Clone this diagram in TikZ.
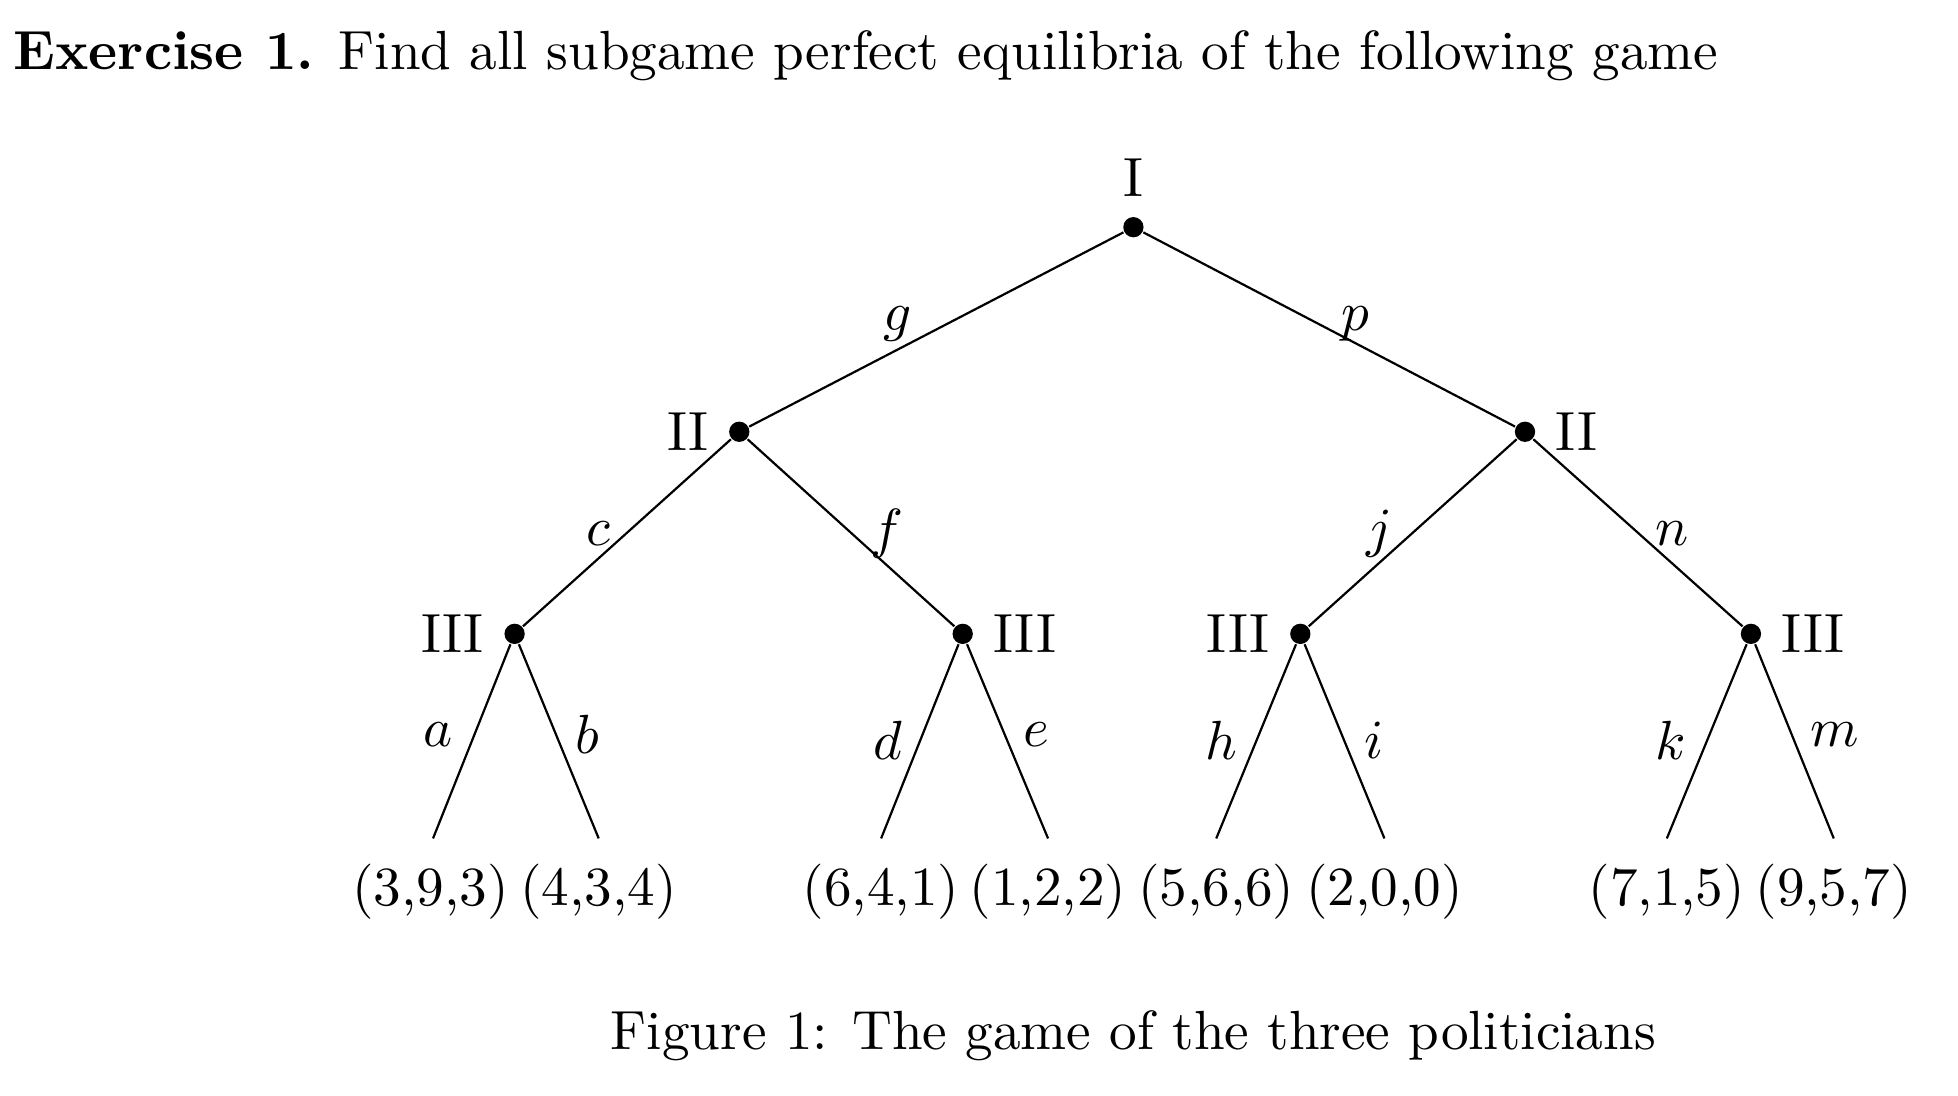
\documentclass[tikz,border=0pt]{standalone}
\usetikzlibrary{positioning}
\tikzset{
  dec/.style={circle,fill,inner sep=1.3pt},
  pl/.style={font=\normalsize},
  act/.style={font=\normalsize\itshape},
  pay/.style={font=\normalsize,anchor=north,inner sep=1pt},
}
\begin{document}
\begin{tikzpicture}[x=0.008cm,y=-0.008cm]
\useasboundingbox (0,0) rectangle (1560,873);
\node[anchor=base west,inner sep=0pt,font=\normalsize] (title) at (10,55) {\textbf{Exercise 1.} Find all subgame perfect equilibria of the following game};
% decision nodes
\node[dec] (r) at (903,181) {};
\node[dec] (l1) at (589,344) {};
\node[dec] (r1) at (1215,344) {};
\node[dec] (ll) at (410,505) {};
\node[dec] (lr) at (767,505) {};
\node[dec] (rl) at (1036,505) {};
\node[dec] (rr) at (1395,505) {};
\node[pl,above=0pt of r] {I};
\node[pl,left=0pt of l1] {II};
\node[pl,right=0pt of r1] {II};
\node[pl,left=0pt of ll] {III};
\node[pl,right=0pt of lr] {III};
\node[pl,left=0pt of rl] {III};
\node[pl,right=0pt of rr] {III};
% leaves
\foreach \n/\x in {t1/345,t2/477,t3/702,t4/835,t5/969,t6/1103,t7/1328,t8/1461}
  \coordinate (\n) at (\x,668);
\foreach \n/\x/\v in {t1/343/{(3,9,3)},t2/477/{(4,3,4)},t3/702/{(6,4,1)},t4/835/{(1,2,2)},t5/969/{(5,6,6)},t6/1103/{(2,0,0)},t7/1328/{(7,1,5)},t8/1461/{(9,5,7)}}
  \node[pay] (\n p) at (\x,683) {\v};
% branches
\draw (r) -- (l1); \draw (r) -- (r1);
\draw (l1) -- (ll); \draw (l1) -- (lr); \draw (r1) -- (rl); \draw (r1) -- (rr);
\draw (ll) -- (t1); \draw (ll) -- (t2); \draw (lr) -- (t3); \draw (lr) -- (t4);
\draw (rl) -- (t5); \draw (rl) -- (t6); \draw (rr) -- (t7); \draw (rr) -- (t8);
% action labels
\foreach \t/\x/\y in {g/715/258,p/1080/258,c/477/425,f/707/425,j/1099/425,n/1332/425,a/349/585,b/468/585,d/707/590,e/826/585,h/973/590,i/1095/590,k/1331/590,m/1462/585}
  \node[act] (lab\t) at (\x,\y) {$\t$};
\node[font=\normalsize] (cap) at (903,825) {Figure 1: The game of the three politicians};
\end{tikzpicture}
\end{document}
